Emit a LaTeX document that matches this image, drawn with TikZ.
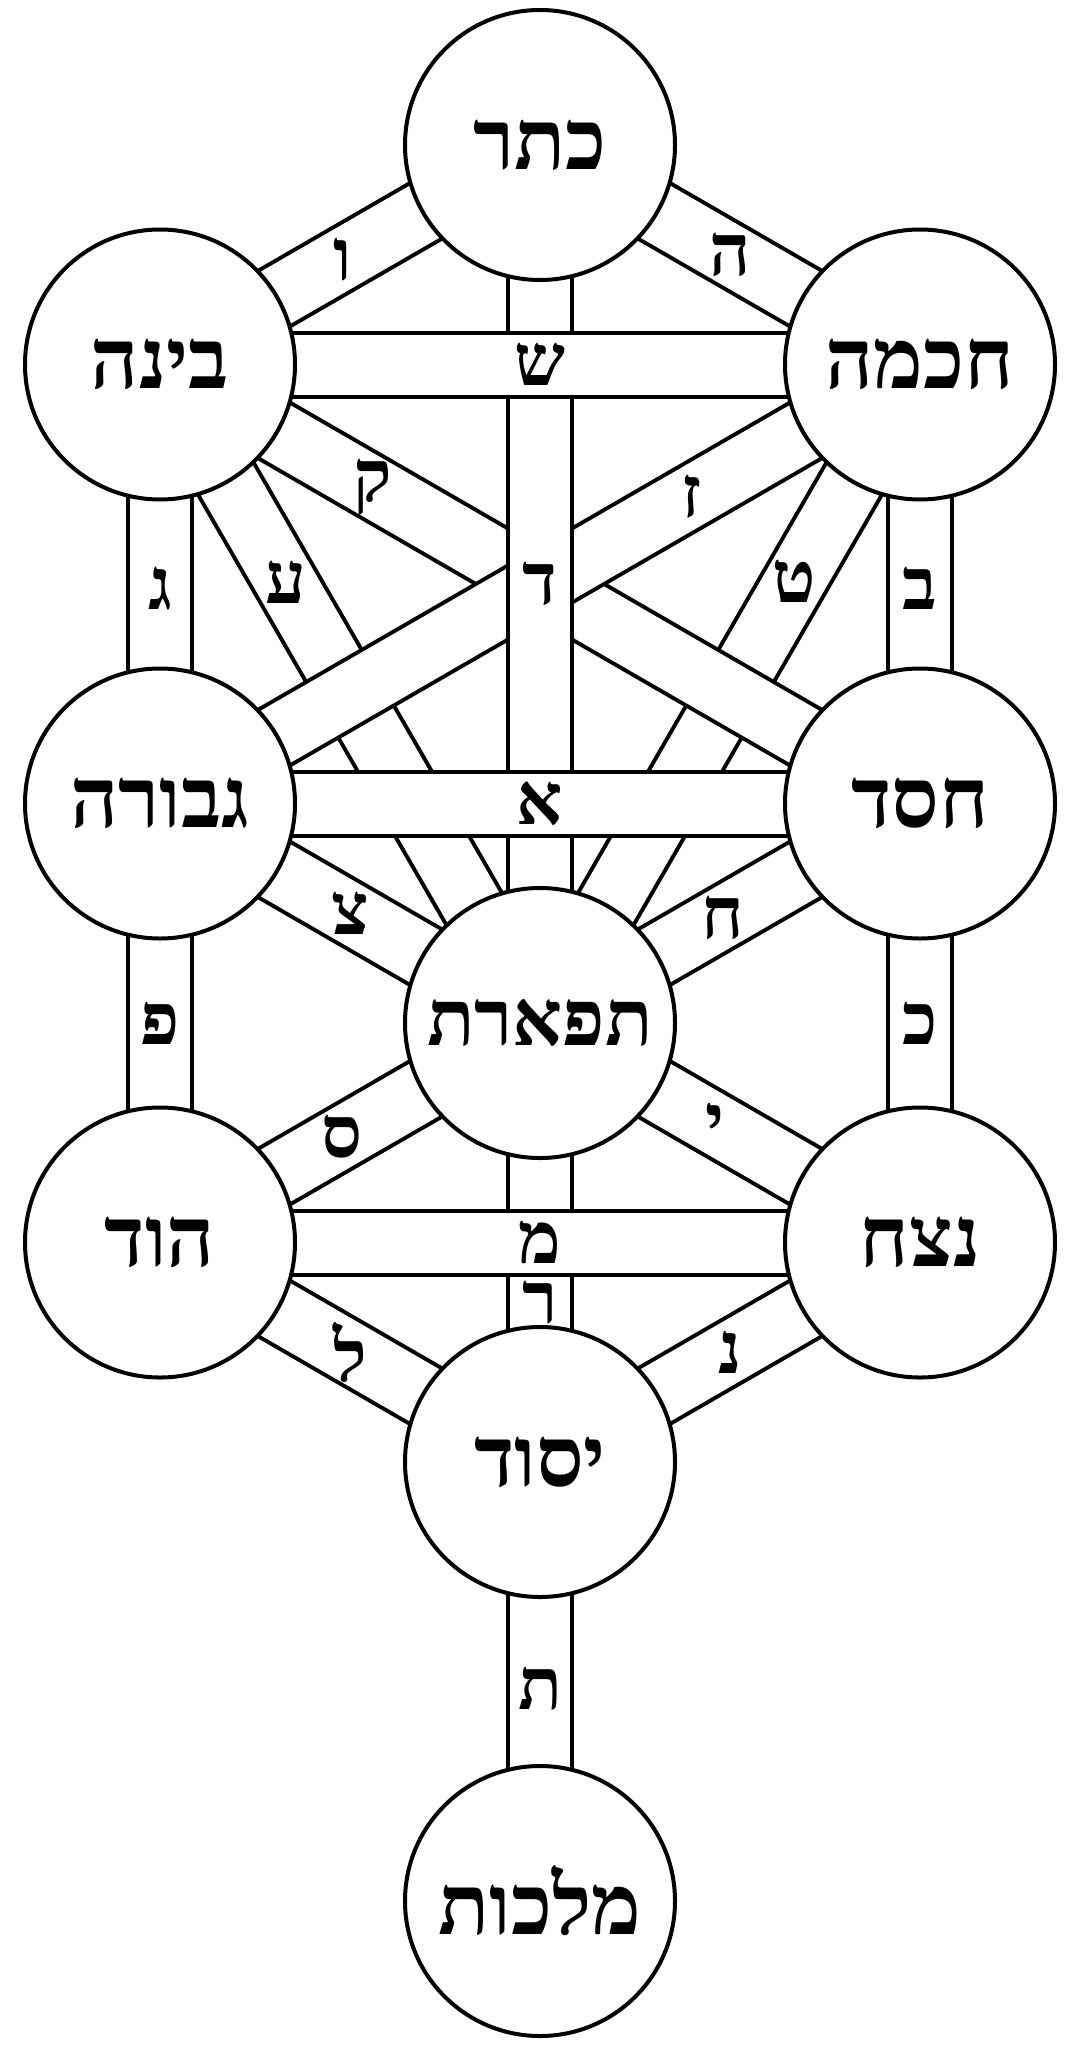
\documentclass[tikz,border=0pt]{standalone}
\usepackage{fontspec}
\TeXXeTstate=1
\newfontfamily\hebfont[Script=Hebrew]{Liberation Serif}
\newcommand\mysephfont{\hebfont\bfseries\fontsize{42}{46}\selectfont}
\newcommand\mysephsmallfont{\hebfont\bfseries\fontsize{39}{44}\selectfont}
\newcommand\mypathfont{\hebfont\bfseries\fontsize{36}{40}\selectfont}
\usetikzlibrary{backgrounds}
\begin{document}
\begin{tikzpicture}[x=0.5pt,y=-0.5pt,
  seph/.style={circle, draw=black, line width=2pt, fill=white, minimum size=135pt, inner sep=0pt, font=\mysephfont},
  band/.style={draw=white, line width=30pt, preaction={draw=black, line width=34pt}},
  lab/.style={font=\mypathfont, inner sep=0pt}]
\useasboundingbox (0,0) rectangle (1080,2050);
% sephirot
\node[seph] (keter)   at (540,145)    {\beginR כתר\endR};
\node[seph] (binah)   at (160,364.5)  {\beginR בינה\endR};
\node[seph] (chokmah) at (920,364.5)  {\beginR חכמה\endR};
\node[seph] (gevurah) at (160,803.5)  {\beginR גבורה\endR};
\node[seph] (chesed)  at (920,803.5)  {\beginR חסד\endR};
\node[seph, font=\mysephsmallfont] (tiferet) at (540,1023) {\beginR תפארת\endR};
\node[seph] (hod)     at (160,1242.5) {\beginR הוד\endR};
\node[seph] (netzach) at (920,1242.5) {\beginR נצח\endR};
\node[seph] (yesod)   at (540,1462)   {\beginR יסוד\endR};
\node[seph] (malkuth) at (540,1901)   {\beginR מלכות\endR};
\begin{pgfonlayer}{background}
\fill[white] (0,0) rectangle (1080,2050);
% lowest: steep paths to Tiferet
\draw[band] (binah.center) -- (tiferet.center) node[lab,pos=0.33]{ע};
\draw[band] (chokmah.center) -- (tiferet.center) node[lab,pos=0.33]{ט};
% crossing diagonals
\draw[band] (binah.center) -- (chesed.center) node[lab,pos=0.28]{ק};
\draw[band] (chokmah.center) -- (gevurah.center) node[lab,pos=0.30]{ז};
% upper supernal paths
\draw[band] (keter.center) -- (binah.center) node[lab,pos=0.52]{ו};
\draw[band] (keter.center) -- (chokmah.center) node[lab,pos=0.5]{ה};
% middle pillar upper
\draw[band] (keter.center) -- (tiferet.center) node[lab,pos=0.5]{ד};
% horizontals
\draw[band] (binah.center) -- (chokmah.center) node[lab,pos=0.5]{ש};
\draw[band] (gevurah.center) -- (chesed.center) node[lab,pos=0.5]{א};
% side pillars and others
\draw[band] (binah.center) -- (gevurah.center) node[lab,pos=0.51]{ג};
\draw[band] (chokmah.center) -- (chesed.center) node[lab,pos=0.51]{ב};
\draw[band] (gevurah.center) -- (tiferet.center) node[lab,pos=0.5]{צ};
\draw[band] (chesed.center) -- (tiferet.center) node[lab,pos=0.52]{ח};
\draw[band] (gevurah.center) -- (hod.center) node[lab,pos=0.5]{פ};
\draw[band] (chesed.center) -- (netzach.center) node[lab,pos=0.5]{כ};
\draw[band] (tiferet.center) -- (hod.center) node[lab,pos=0.52]{ס};
\draw[band] (tiferet.center) -- (netzach.center) node[lab,pos=0.46]{י};
% middle pillar lower
\draw[band] (tiferet.center) -- (yesod.center) node[lab,pos=0.636]{ר};
\draw[band] (hod.center) -- (netzach.center) node[lab,pos=0.5]{מ};
\draw[band] (hod.center) -- (yesod.center) node[lab,pos=0.5]{ל};
\draw[band] (netzach.center) -- (yesod.center) node[lab,pos=0.5]{נ};
\draw[band] (yesod.center) -- (malkuth.center) node[lab,pos=0.517]{ת};
\end{pgfonlayer}
\end{tikzpicture}
\end{document}
